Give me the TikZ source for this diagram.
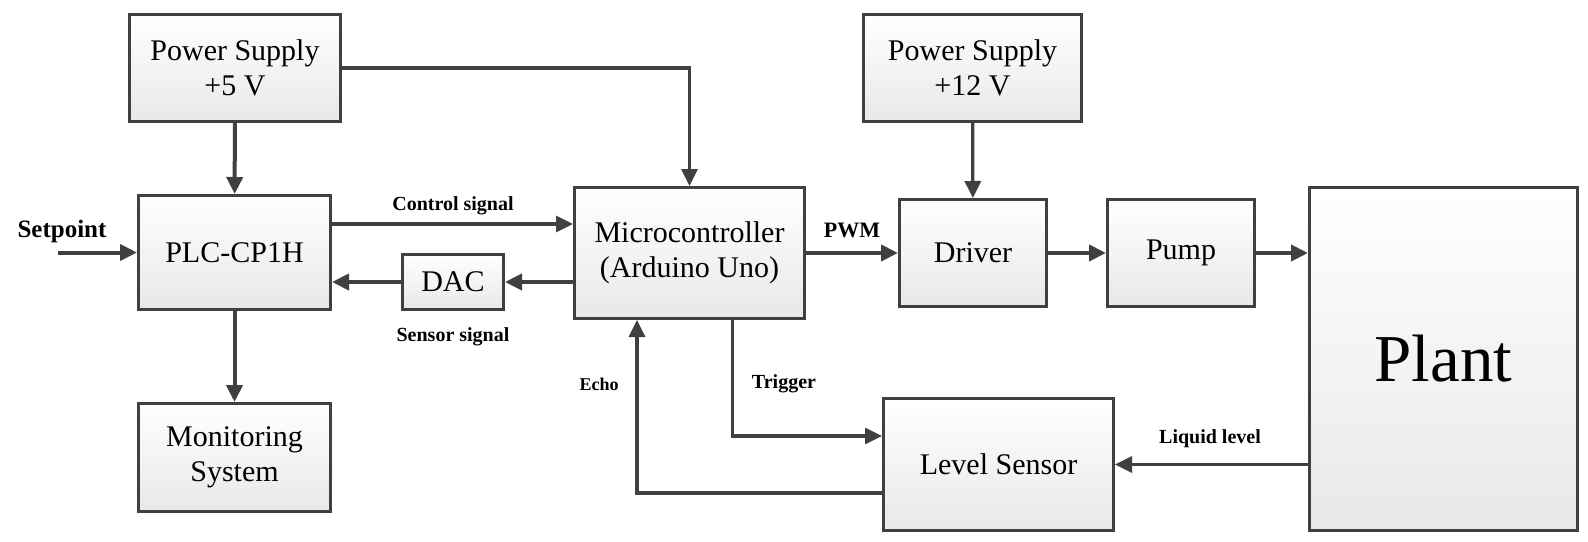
\documentclass[tikz,border=0pt]{standalone}
\usepackage{fontspec}
\setmainfont{Liberation Serif}
\usetikzlibrary{arrows.meta}

\definecolor{linegray}{HTML}{404040}

\begin{document}
\begin{tikzpicture}[x=1pt, y=-1pt,
    block/.style={draw=linegray, line width=3pt, top color=white, bottom color=black!9, align=center, inner sep=0pt, font=\fontsize{30}{35}\selectfont},
    lbl/.style={font=\fontsize{20}{24}\selectfont\bfseries, inner sep=0pt},
    sig/.style={draw=linegray, line width=4pt, -{Triangle[length=17pt,width=16pt]}},
    wire/.style={sig, line width=3.2pt}]
    \useasboundingbox (0,0) rectangle (1588,541);

    % Blocks
    \node[block, minimum width=211pt, minimum height=107pt] (ps5)    at (235,68)      {Power Supply\\+5 V};
    \node[block, minimum width=192pt, minimum height=114pt] (plc)    at (234.5,252.5) {PLC-CP1H};
    \node[block, minimum width=192pt, minimum height=108pt] (mon)    at (234.5,457.5) {Monitoring\\System};
    \node[block, minimum width=101pt, minimum height=55pt]  (dac)    at (453,282)     {DAC};
    \node[block, minimum width=230pt, minimum height=131pt] (micro)  at (689.5,253)   {Microcontroller\\(Arduino Uno)};
    \node[block, minimum width=218pt, minimum height=107pt] (ps12)   at (972.5,68)    {Power Supply\\+12 V};
    \node[block, minimum width=147pt, minimum height=107pt] (driver) at (973,253)     {Driver};
    \node[block, minimum width=147pt, minimum height=107pt] (pump)   at (1181,253)    {Pump};
    \node[block, minimum width=268pt, minimum height=343pt, font=\fontsize{67}{72}\selectfont] (plant) at (1443.5,359) {Plant};
    \node[block, minimum width=230pt, minimum height=132pt] (level)  at (998.5,464.5) {Level Sensor};

    % Signal labels
    \node[lbl, font=\fontsize{25}{28}\selectfont\bfseries] (l_sp) at (62,231) {Setpoint};
    \node[lbl] (l_ctrl) at (453,206)  {Control signal};
    \node[lbl] (l_sens) at (453,337)  {Sensor signal};
    \node[lbl, font=\fontsize{22}{26}\selectfont\bfseries] (l_pwm) at (852,230) {PWM};
    \node[lbl, font=\fontsize{18}{22}\selectfont\bfseries] (l_echo) at (599,384) {Echo};
    \node[lbl] (l_trig) at (784,384)  {Trigger};
    \node[lbl] (l_liq)  at (1210,439) {Liquid level};

    \coordinate (sp) at (58,252.5);

    % Connections
    \draw[sig] (ps5) -- (plc); \draw[sig] (plc) -- (mon); \draw[sig] (sp) -- (plc);
    \draw[wire] (ps5) -| (micro);
    \draw[wire] ([yshift=28.5pt]plc.east) -- ([yshift=28.5pt]plc.east -| micro.west);
    \draw[sig] (micro.west |- dac) -- (dac); \draw[sig] (dac) -- (plc.east |- dac);

    \draw[wire] (ps12) -- (driver);
    \draw[sig] (micro) -- (driver); \draw[sig] (driver) -- (pump); \draw[sig] (pump) -- (pump -| plant.west);

    \draw[wire] ([xshift=43pt]micro.south) |- ([yshift=28.5pt]level.west);
    \draw[wire] ([yshift=-28.5pt]level.west) -| ([xshift=-52.5pt]micro.south);
    \draw[wire] (plant.west |- level) -- (level);

\end{tikzpicture}
\end{document}
